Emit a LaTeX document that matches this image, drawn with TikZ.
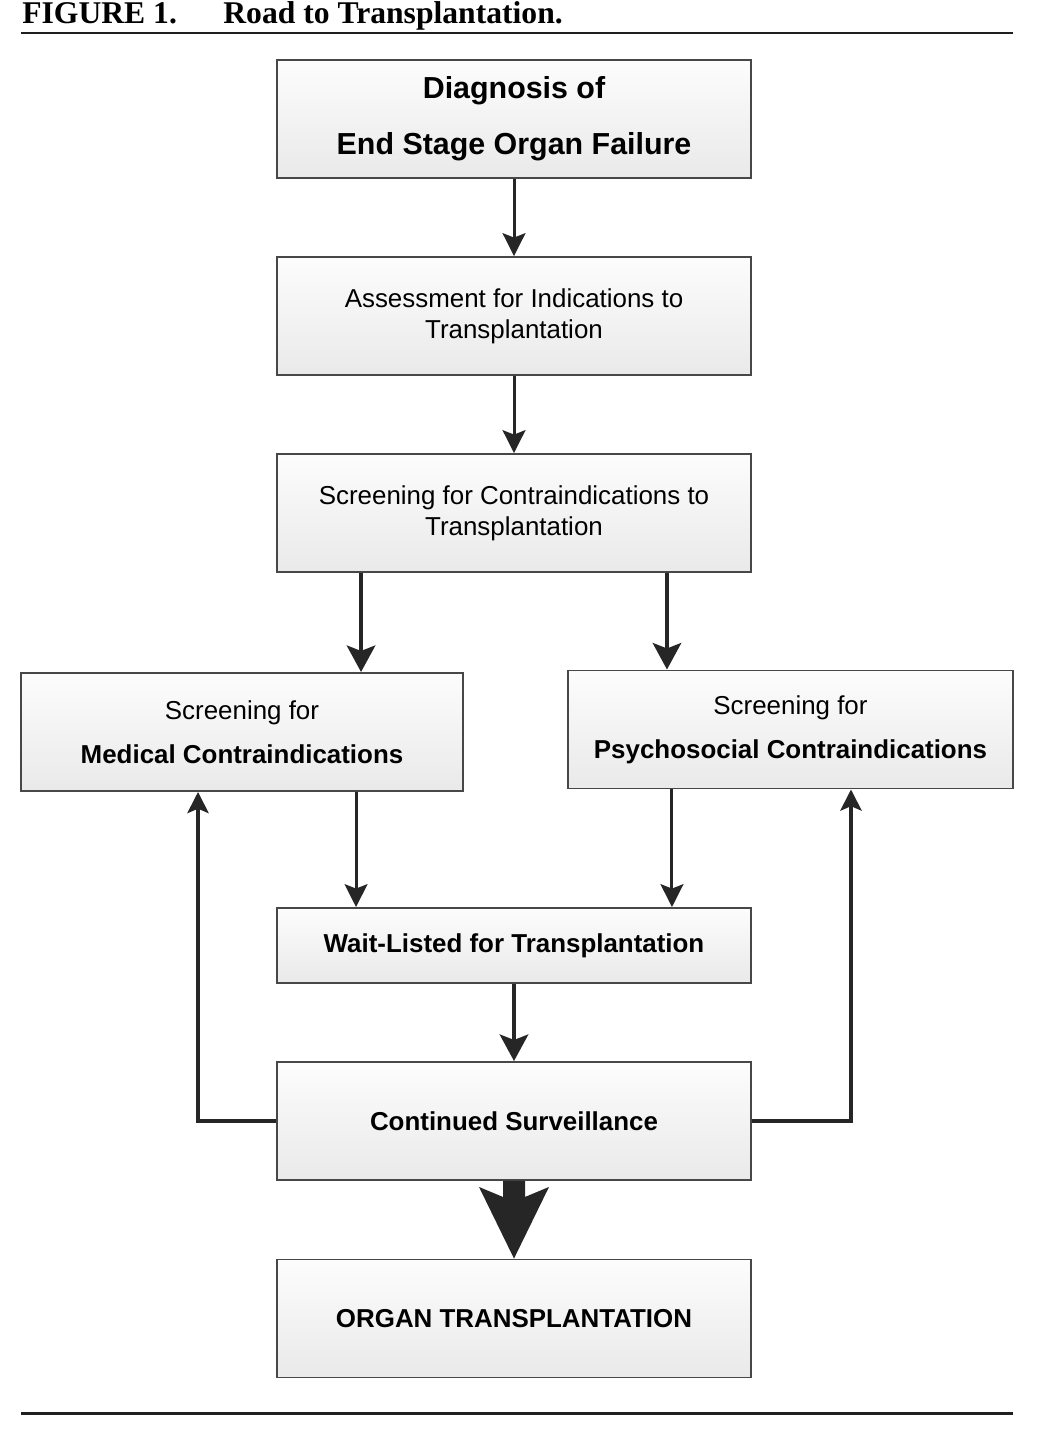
\documentclass[tikz,border=0pt]{standalone}
\usepackage{fontspec}
\setmainfont{Liberation Sans}
\newfontfamily\titlefont{Liberation Serif}
\usetikzlibrary{arrows.meta,calc}
\begin{document}
\begin{tikzpicture}[x=0.02cm,y=-0.02cm,
  box/.style={draw=black!72, line width=1.1pt, top color=gray!2, bottom color=gray!17,
    minimum width=9.48cm, minimum height=2.36cm, inner sep=0pt, align=center,
    font=\fontsize{14.75}{17.6}\selectfont},
  arr/.style={draw=black!85, line width=1.7pt, line join=miter,
    -{Stealth[length=13pt,width=13pt,inset=2.5pt]}},
  arrthick/.style={draw=black!85, line width=2.8pt, line join=miter,
    -{Stealth[length=15pt,width=16pt,inset=3pt]}},
  fb/.style={draw=black!85, line width=2.8pt, line join=miter,
    -{Stealth[length=12pt,width=12pt,inset=2.5pt]}},
  rule/.style={draw=black!88, line width=1.7pt},
  ttlfont/.style={font=\titlefont\bfseries\fontsize{18}{20}\selectfont}
]
\useasboundingbox (0,0) rectangle (1046,1432);

% title and rules
\node[anchor=base west, inner sep=0pt, ttlfont] (fig) at (22,23.5) {FIGURE 1.};
\node[anchor=base west, inner sep=0pt, ttlfont] (ttl) at (223,23.5) {Road to Transplantation.};
\draw[rule] (21,33) -- (1013,33);
\draw[rule] (21,1413) -- (1013,1413);

% boxes
\node[box, font=\bfseries\fontsize{17.3}{32}\selectfont] (D) at (514,119) {Diagnosis of\\End Stage Organ Failure};
\node[box] (A) at (514,316) {Assessment for Indications to\\Transplantation};
\node[box] (S) at (514,513) {Screening for Contraindications to\\Transplantation};
\node[box, minimum width=8.84cm, font=\fontsize{14.75}{25}\selectfont] (M) at (242,732) {Screening for\\\textbf{Medical Contraindications}};
\node[box, minimum width=8.9cm, font=\fontsize{14.75}{25}\selectfont] (P) at (790.5,729.5) {Screening for\\\textbf{Psychosocial Contraindications}};
\node[box, minimum height=1.5cm, font=\bfseries\fontsize{14.75}{17.6}\selectfont] (W) at (514,945.5) {Wait-Listed for Transplantation};
\node[box, font=\bfseries\fontsize{14.75}{17.6}\selectfont] (C) at (514,1121) {Continued Surveillance};
\node[box, font=\bfseries\fontsize{14.75}{17.6}\selectfont] (O) at (514,1318.5) {ORGAN TRANSPLANTATION};

% connectors
\draw[arr] (D) -- (A);
\draw[arr] (A) -- (S);
\draw[arrthick] ([xshift=-3.06cm]S.south) -- ([xshift=-3.06cm]S.south |- M.north);
\draw[arrthick] ([xshift=3.06cm]S.south) -- ([xshift=3.06cm]S.south |- P.north);
\draw[arr] ([xshift=-3.16cm]W.north |- M.south) -- ([xshift=-3.16cm]W.north);
\draw[arr] ([xshift=3.16cm]W.north |- P.south) -- ([xshift=3.16cm]W.north);
\draw[arrthick] (W) -- (C);
\draw[fb] (C.west) -| ([xshift=-0.88cm]M.south);
\draw[fb] (C.east) -| ([xshift=1.21cm]P.south);

% big arrow to organ transplantation
\fill[black!85] ($(C.south)+(-11,0)$) -- ($(C.south)+(11,0)$) -- ($(C.south)+(11,16)$)
  -- ($(C.south)+(35,6)$) -- (O.north) -- ($(C.south)+(-35,6)$) -- ($(C.south)+(-11,16)$) -- cycle;
\end{tikzpicture}
\end{document}
